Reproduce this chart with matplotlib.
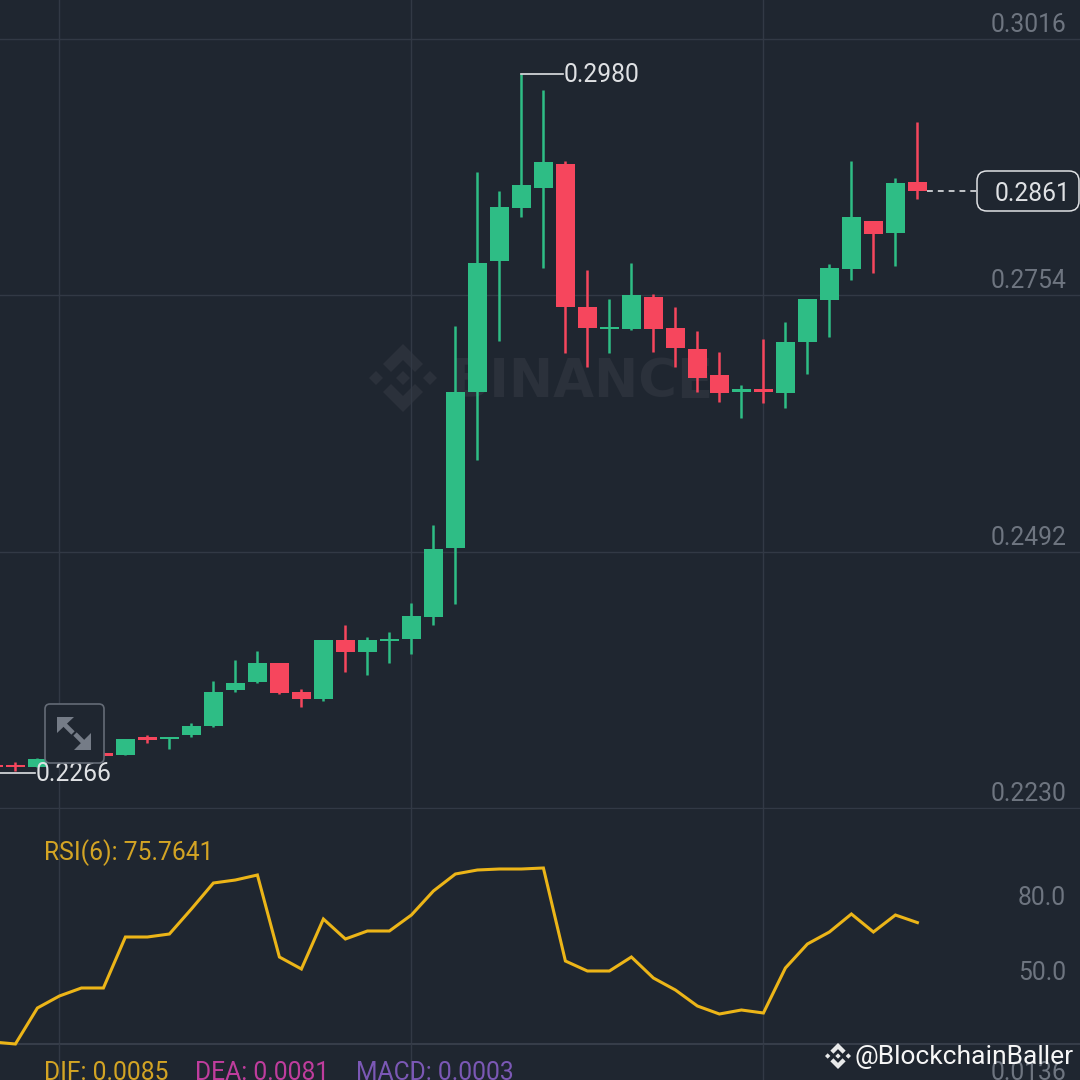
import matplotlib
matplotlib.use("Agg")
import matplotlib.pyplot as plt
import numpy as np
from matplotlib.patches import FancyBboxPatch, Polygon

plt.rcParams['font.family'] = ['Roboto', 'DejaVu Sans']

# candles, first one is cut by the left edge
opens = [.22740, .22740, .22719, .22791, .22832, .22863, .22842, .23026, .23006, .23047,
         .23139, .23507, .23588, .23782, .23486, .23415, .24018, .23895, .24007, .24028,
         .24253, .24958, .26552, .27891, .28433, .28637, .28883, .27421, .27196, .27196,
         .27523, .27207, .26992, .26726, .26552, .26583, .26542, .27063, .27493, .27810,
         .28300, .28178, .28699]
highs = [.22750, .22771, .22811, .22860, .22890, .22863, .23006, .23047, .23026, .23169,
         .23598, .23813, .23905, .23782, .23517, .24018, .24171, .24048, .24099, .24396,
         .25193, .27227, .28801, .28607, .29803, .29639, .28913, .27799, .27503, .27871,
         .27554, .27421, .27176, .26961, .26624, .27094, .27268, .27503, .27861, .28913,
         .28300, .28740, .29312]
lows = [.22700, .22679, .22719, .22780, .22820, .22832, .22842, .22965, .22904, .23026,
        .23128, .23486, .23578, .23466, .23333, .23394, .23690, .23660, .23782, .23875,
        .24171, .24386, .25857, .27074, .28341, .27820, .26951, .26808, .26951, .27186,
        .26961, .26808, .26552, .26450, .26287, .26440, .26389, .26736, .27115, .27697,
        .27769, .27840, .28525]
closes = [.22719, .22719, .22801, .22842, .22873, .22832, .23006, .22995, .23026, .23139,
          .23486, .23578, .23782, .23476, .23415, .24018, .23895, .24018, .24028, .24263,
          .24948, .26552, .27871, .28443, .28668, .28903, .27421, .27207, .27217, .27544,
          .27196, .27002, .26695, .26542, .26583, .26552, .27063, .27503, .27820, .28341,
          .28167, .28689, .28607]
rsi = [28.0, 27.2, 41.6, 46.4, 49.6, 49.6, 70.0, 70.0, 71.2, 81.2,
       91.6, 92.8, 94.8, 62.0, 57.2, 77.2, 69.2, 72.4, 72.4, 78.8,
       88.4, 95.2, 96.8, 97.2, 97.2, 97.6, 60.4, 56.4, 56.4, 62.0,
       53.6, 48.8, 42.4, 39.2, 40.8, 39.6, 57.6, 67.2, 72.0, 79.2,
       72.0, 78.8, 75.76]

price_ticks = [0.3016, 0.2754, 0.2492, 0.2230]
rsi_ticks = [80.0, 50.0]
time_ticks = [2, 18, 34]
high_price = 0.2980
low_price = 0.2266

BG = '#1f2630'
GRID = '#323945'
GREEN = '#2ebd85'
RED = '#f6465d'
YELLOW = '#ecb518'
GREY = '#6e7580'
LIGHT = '#dfe1e4'
FS = 17.7

idx = np.arange(-1, 42)
o = np.array(opens)
c = np.array(closes)
colors = [GREEN if b >= a else RED for a, b in zip(opens, closes)]


def pos(top, bottom):
    return [0, 1 - bottom / 1080, 1, (bottom - top) / 1080]


fig = plt.figure(figsize=(10.8, 10.8), dpi=100, facecolor=BG)

# pixel layers for the decoration: one under the candles, one on top
under = fig.add_axes([0, 0, 1, 1], zorder=0)
over = fig.add_axes([0, 0, 1, 1], zorder=5)
for a in (under, over):
    a.set_xlim(0, 1080)
    a.set_ylim(1080, 0)
    a.axis('off')
under.set_facecolor(BG)

ax = fig.add_axes(pos(0, 808), zorder=2)
ax_rsi = fig.add_axes(pos(808, 1044), zorder=2)
ax_macd = fig.add_axes(pos(1044, 1080), zorder=2)
for a in (ax, ax_rsi, ax_macd):
    a.patch.set_alpha(0)
    a.set_xlim(-15.4 / 22, 1064.6 / 22)
    a.set_xticks(time_ticks)
    a.grid(axis='x', color=GRID, lw=1)
    a.tick_params(length=0, labelbottom=False, labelleft=False)
    a.set_axisbelow(True)
    for s in a.spines.values():
        s.set_visible(False)

# price panel
ax.set_ylim(0.2230, 0.3016 + 39 * 0.0262 / 256.33)
ax.set_yticks(price_ticks)
ax.grid(axis='y', color=GRID, lw=1)
ax.spines['bottom'].set_visible(True)
ax.spines['bottom'].set_color(GRID)
ax.vlines(idx, lows, highs, color=colors, lw=1.8, zorder=3)
ax.bar(idx, c - o, bottom=o, width=0.88, color=colors, zorder=4)

for p in price_ticks:
    ax.annotate(f'{p:.4f}', xy=(1066 / 1080, p), xycoords=('figure fraction', 'data'),
                xytext=(0, 10), textcoords='offset points', ha='right', va='center',
                color=GREY, fontsize=FS, annotation_clip=False)

# highest / lowest markers
ax.plot([23, 24.9], [high_price, high_price], color=LIGHT, lw=1.2, zorder=5)
ax.text(24.9, high_price - 0.00005, f'{high_price:.4f}', color=LIGHT, fontsize=FS,
        va='center', ha='left', zorder=6)
ax.plot([-1, 0.9], [low_price, low_price], color=LIGHT, lw=1.2, zorder=5)
ax.text(0.93, low_price - 0.00015, f'{low_price:.4f}', color=LIGHT, fontsize=FS,
        va='center', ha='left', zorder=6)

# last price
ax.plot([41.45, 43.7], [closes[-1], closes[-1]], color=LIGHT, lw=1.2, ls=(0, (3.5, 3)), zorder=5)
over.add_patch(FancyBboxPatch((985, 179), 86, 24, boxstyle='round,pad=8,rounding_size=10',
                              fc=BG, ec=LIGHT, lw=1.1))
over.text(1032, 194, f'{closes[-1]:.4f}', color=LIGHT, fontsize=FS,
          ha='center', va='center')

# rsi panel
ax_rsi.set_ylim(80 - 132 / 2.5, 80 + 104 / 2.5)
ax_rsi.plot(idx, rsi, color=YELLOW, lw=2.2, solid_joinstyle='miter', clip_on=False, zorder=3)
ax_rsi.spines['bottom'].set_visible(True)
ax_rsi.spines['bottom'].set_color('#363d49')
ax_rsi.spines['bottom'].set_linewidth(1.5)
for v in rsi_ticks:
    ax_rsi.annotate(f'{v:.1f}', xy=(1066 / 1080, v), xycoords=('figure fraction', 'data'),
                    xytext=(0, 10), textcoords='offset points', ha='right', va='center',
                    color=GREY, fontsize=FS, annotation_clip=False)
over.text(44, 853, 'RSI(6): 75.7641', color='#d3a424', fontsize=FS, va='center', ha='left')

# macd strip, only the header shows
over.text(44, 1073, 'DIF: 0.0085', color='#d3a424', fontsize=FS, va='center')
over.text(195, 1073, 'DEA: 0.0081', color='#bf3d9d', fontsize=FS, va='center')
over.text(356, 1073, 'MACD: 0.0003', color='#7b58b5', fontsize=FS, va='center')
over.text(1066, 1073, '0.0136', color=GREY, fontsize=FS, ha='right', va='center')


def logo(a, cx, cy, s, color):
    # the four-diamond mark, s is half its width
    k = s / 34.0
    parts = [
        [(0, -34), (20, -14), (12, -6), (0, -18), (-12, -6), (-20, -14)],
        [(0, 34), (20, 14), (12, 6), (0, 18), (-12, 6), (-20, 14)],
        [(0, -7), (7, 0), (0, 7), (-7, 0)],
        [(-34, 0), (-27, -7), (-20, 0), (-27, 7)],
        [(34, 0), (27, -7), (20, 0), (27, 7)],
    ]
    for part in parts:
        a.add_patch(Polygon([(cx + x * k, cy + y * k) for x, y in part], fc=color, ec='none'))


# watermark behind the candles
logo(under, 403, 378, 34, '#2b313b')
under.text(449, 382, 'BINANCE', color='#2b313b', fontsize=38, fontweight='bold',
           family=['DejaVu Sans'], va='center', ha='left')

# expand button
over.add_patch(FancyBboxPatch((49, 708), 51, 51, boxstyle='round,pad=4,rounding_size=5',
                              fc=BG, ec='#646b76', lw=1.2))
ARROW = '#757c87'
over.add_patch(Polygon([(57, 717), (74, 717), (57, 733)], fc=ARROW, ec='none'))
over.plot([63, 73], [723, 733], color=ARROW, lw=3.4, solid_capstyle='butt')
over.add_patch(Polygon([(91, 750), (74, 750), (91, 733)], fc=ARROW, ec='none'))
over.plot([85, 75], [744, 734], color=ARROW, lw=3.4, solid_capstyle='butt')

# author tag
logo(over, 838, 1056, 13, '#e8e9ea')
over.text(855, 1057, '@BlockchainBaller', color='#f6f6f6', fontsize=19,
          va='center', ha='left')

fig.savefig('out.png', dpi=100, facecolor=BG)
